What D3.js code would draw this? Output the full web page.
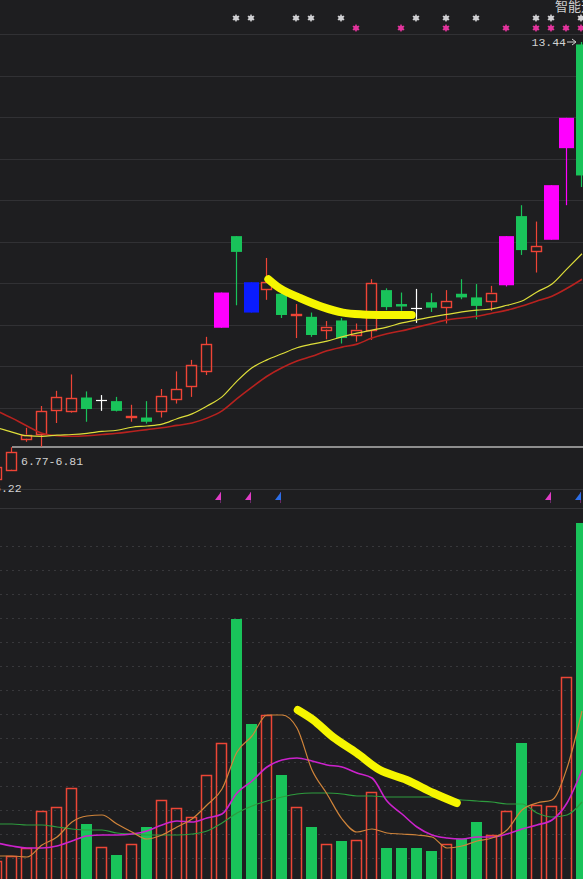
<!DOCTYPE html>
<html><head><meta charset="utf-8">
<script src="https://cdn.jsdelivr.net/npm/d3@7"></script>
<style>html,body{margin:0;padding:0;background:#1e1e20;overflow:hidden}svg{display:block}</style>
</head><body><svg id="c" width="583" height="879"></svg>
<script>
// ---- data (trading-day index, -1 is the partly hidden first candle) ----
const days   = [-1,0,1,2,3,4,5,6,7,8,9,10,11,12,13,14,15,16,17,18,19,20,21,22,23,24,25,26,27,28,29,30,31,32,33,34,35,36,37,38];
const open   = [6.24,6.39,6.90,6.97,7.36,7.36,7.58,7.54,7.52,7.25,7.25,7.36,7.55,7.77,8.02,8.73,10.24,9.48,9.36,9.29,8.93,8.91,8.70,8.85,8.61,8.69,9.35,9.12,9.05,9.15,9.07,9.29,9.23,9.17,9.43,10.57,9.98,10.18,11.69,13.40];
const close  = [6.43,6.68,6.97,7.35,7.58,7.57,7.39,7.54,7.36,7.27,7.18,7.61,7.72,8.12,8.46,9.31,9.98,8.98,9.48,8.94,8.95,8.61,8.75,8.56,8.70,9.46,9.07,9.08,9.05,9.06,9.17,9.23,9.09,9.31,10.24,10.01,10.07,11.08,12.19,11.24];
const high   = [6.46,6.76,7.08,7.44,7.69,7.96,7.68,7.62,7.59,7.46,7.52,7.72,8.01,8.20,8.58,9.31,10.24,9.48,9.88,9.35,9.12,8.98,8.84,8.89,8.80,9.53,9.38,9.31,9.37,9.30,9.35,9.53,9.45,9.42,10.24,10.75,10.48,11.08,12.19,13.44];
const low    = [6.22,6.37,6.85,6.77,7.16,7.33,7.18,7.36,7.35,7.18,7.15,7.25,7.48,7.59,7.95,8.73,9.10,8.98,9.19,8.89,8.56,8.58,8.54,8.47,8.50,8.53,9.02,9.01,8.81,8.99,8.80,9.20,8.87,9.01,9.41,9.93,9.64,10.18,10.75,11.05];
const priceMAyellow = [7.08,7.01,6.95,6.94,6.96,6.97,6.99,7.02,7.04,7.09,7.11,7.14,7.23,7.31,7.44,7.59,7.85,8.07,8.20,8.30,8.40,8.46,8.51,8.58,8.64,8.69,8.74,8.81,8.86,8.91,8.95,8.99,9.02,9.04,9.10,9.17,9.32,9.45,9.70,9.95];
const priceMAred    = [7.36,7.24,7.11,6.99,6.95,6.94,6.95,6.97,6.99,7.02,7.05,7.08,7.12,7.16,7.24,7.36,7.56,7.75,7.93,8.07,8.18,8.26,8.35,8.41,8.46,8.56,8.63,8.68,8.74,8.80,8.86,8.89,8.92,8.97,9.02,9.09,9.17,9.25,9.38,9.53];
const volume = [19,24,32,69,73,92,56,33,25,36,53,80,72,63,105,137,261,156,165,105,73,53,36,39,40,88,32,32,32,29,36,41,58,45,69,137,75,74,203,357];
const volMA5  = [24,24,23,35,43,58,64,65,56,48,41,45,53,61,75,91,128,144,165,165,152,110,86,61,48,51,47,46,45,43,32,34,39,42,50,70,77,80,112,169];
const volMA10 = [37,34,32,32,34,39,44,45,45,46,49,55,59,58,62,66,87,99,113,120,122,119,115,113,107,102,79,66,53,45,42,41,43,43,46,51,55,60,77,110];
const volMA20 = [56,56,55,55,53,51,50,50,47,46,45,45,45,46,49,57,67,74,79,83,86,87,87,86,84,84,83,83,83,83,82,80,79,78,76,76,67,63,65,78];
const grayStars = [15,16,19,20,22,27,29,31,35,36,38];
const pinkStars = [23,26,29,33,35,36,37,38];
const pinkFlags = [14,16,36];
const blueFlags = [18,38];
const highLabel = "13.44";
const lowLabel = "6.22";
const rangeLabel = "6.77-6.81";
const titleText = "智能选股";
// hand-drawn yellow marks, in (day, price) and (day, volume)
const priceStroke = [[17.09,9.53],[17.87,9.38],[19.2,9.22],[20.73,9.07],[22.07,8.98],[23.4,8.95],[25.2,8.94],[26.65,8.94]];
const volStroke = [[19.05,170],[20.09,160],[21.4,143],[22.98,127],[24.53,110],[26.31,100],[28.09,87],[29.65,77]];

// ---- scales ----
const W = 583, H = 879;
const svg = d3.select("#c");
const x = d3.scaleLinear().domain([-1, 38]).range([-3, 582]);
const yP = d3.scaleLinear().domain([6.22, 13.44]).range([480, 42]);
const yV = d3.scaleLinear().domain([0, 360]).range([880, 520]);

const RED = "#ee4436", VRED = "#ec4636", GREEN = "#19c35a", MAG = "#ff00ff", BLUE = "#0a1cff", WHITE = "#ffffff";

svg.append("rect").attr("width", W).attr("height", H).attr("fill", "#1e1e20");

// ---- grid ----
const g = svg.append("g");
d3.range(10).forEach(i => {
  const yy = Math.round(34 + 41.55 * i) + 0.5;
  g.append("line").attr("x1", 0).attr("x2", W).attr("y1", yy).attr("y2", yy)
    .attr("stroke", "#313134").attr("stroke-width", 1);
});
d3.range(14).forEach(i => {
  const yy = 546 + 24 * i + 0.5;
  g.append("line").attr("x1", 0).attr("x2", W).attr("y1", yy).attr("y2", yy)
    .attr("stroke", "#38383b").attr("stroke-width", 1).attr("stroke-dasharray", "2,4");
});
[489.5, 508.5].forEach(yy => g.append("line").attr("x1", 0).attr("x2", W).attr("y1", yy).attr("y2", yy)
  .attr("stroke", "#343437").attr("stroke-width", 1));
g.append("line").attr("x1", 12).attr("x2", W).attr("y1", 447).attr("y2", 447)
  .attr("stroke", "#8e8e8e").attr("stroke-width", 2);

// ---- candle typing ----
function kind(i) {
  const o = open[i], c = close[i];
  if (i > 0) {
    const pc = close[i - 1];
    if (c >= pc * 1.1 - 0.01) return "limUp";
    if (c <= pc * 0.9 + 0.01) return "limDn";
  }
  if (c > o) return "up";
  if (c < o) return "down";
  return "doji";
}
const colorOf = { up: RED, down: GREEN, limUp: MAG, limDn: BLUE, doji: WHITE };

// ---- volume bars ----
const gv = svg.append("g");
days.forEach((d, i) => {
  const cx = Math.round(x(d));
  let upVol;
  if (close[i] > open[i]) upVol = true;
  else if (close[i] < open[i]) upVol = false;
  else upVol = i > 0 ? close[i] >= close[i - 1] : true;
  const top = Math.round(yV(volume[i]));
  if (upVol) {
    gv.append("rect").attr("x", cx - 5.5).attr("y", top + 0.5)
      .attr("width", 10).attr("height", 880 - top)
      .attr("fill", "none").attr("stroke", VRED).attr("stroke-width", 1.5);
  } else {
    gv.append("rect").attr("x", cx - 6).attr("y", top)
      .attr("width", 11).attr("height", 880 - top).attr("fill", GREEN);
  }
});
const gl = svg.append("g");
const lineV = arr => d3.line().x((d, i) => x(days[i])).y(d => yV(d)).curve(d3.curveMonotoneX)(arr);
gl.append("path").attr("d", lineV(volMA20)).attr("fill", "none").attr("stroke", "#2e9c3e").attr("stroke-width", 1.2);
gl.append("path").attr("d", lineV(volMA10)).attr("fill", "none").attr("stroke", "#cc22cc").attr("stroke-width", 1.6);
gl.append("path").attr("d", lineV(volMA5)).attr("fill", "none").attr("stroke", "#d0843a").attr("stroke-width", 1.2);

// ---- candles ----
const gc = svg.append("g");
days.forEach((d, i) => {
  const cx = Math.round(x(d)), k = kind(i), col = colorOf[k];
  const yo = yP(open[i]), yc = yP(close[i]), yh = yP(high[i]), yl = yP(low[i]);
  const wx = cx - 0.5;
  const bt = Math.min(yo, yc), bb = Math.max(yo, yc);
  if (k === "up") {
    gc.append("line").attr("x1", wx).attr("x2", wx).attr("y1", yh).attr("y2", bt).attr("stroke", col).attr("stroke-width", 1.2);
    gc.append("line").attr("x1", wx).attr("x2", wx).attr("y1", bb).attr("y2", yl).attr("stroke", col).attr("stroke-width", 1.2);
    gc.append("rect").attr("x", cx - 5.5).attr("y", Math.round(bt) + 0.5).attr("width", 10)
      .attr("height", Math.max(1, Math.round(bb - bt))).attr("fill", "none").attr("stroke", col).attr("stroke-width", 1.4);
  } else if (k === "down") {
    gc.append("line").attr("x1", wx).attr("x2", wx).attr("y1", yh).attr("y2", yl).attr("stroke", col).attr("stroke-width", 1.2);
    gc.append("rect").attr("x", cx - 6).attr("y", bt).attr("width", 11)
      .attr("height", Math.max(1, bb - bt)).attr("fill", col);
  } else if (k === "doji") {
    gc.append("line").attr("x1", wx).attr("x2", wx).attr("y1", yh).attr("y2", yl).attr("stroke", col).attr("stroke-width", 1.2);
    gc.append("line").attr("x1", cx - 6).attr("x2", cx + 5).attr("y1", Math.round(yo) + 0.5).attr("y2", Math.round(yo) + 0.5).attr("stroke", col).attr("stroke-width", 1.2);
  } else {
    gc.append("line").attr("x1", wx).attr("x2", wx).attr("y1", yh).attr("y2", yl).attr("stroke", col).attr("stroke-width", 1.2);
    gc.append("rect").attr("x", cx - 8).attr("y", bt).attr("width", 15)
      .attr("height", Math.max(1, bb - bt)).attr("fill", col);
  }
});

// ---- price moving averages ----
const lineP = arr => d3.line().x((d, i) => x(days[i])).y(d => yP(d)).curve(d3.curveMonotoneX)(arr);
svg.append("path").attr("d", lineP(priceMAred)).attr("fill", "none").attr("stroke", "#b8221f").attr("stroke-width", 1.6);
svg.append("path").attr("d", lineP(priceMAyellow)).attr("fill", "none").attr("stroke", "#dede3a").attr("stroke-width", 1.2);

// ---- hand-drawn yellow strokes ----
const strokeLine = d3.line().curve(d3.curveCatmullRom);
svg.append("path").attr("d", strokeLine(priceStroke.map(p => [x(p[0]), yP(p[1])])))
  .attr("fill", "none").attr("stroke", "#f6f600").attr("stroke-width", 8).attr("stroke-linecap", "round");
svg.append("path").attr("d", strokeLine(volStroke.map(p => [x(p[0]), yV(p[1])])))
  .attr("fill", "none").attr("stroke", "#f6f600").attr("stroke-width", 8).attr("stroke-linecap", "round");

// ---- signal stars ----
function star(cx, cy, col) {
  const s = svg.append("g").attr("transform", `translate(${cx},${cy})`);
  s.append("path").attr("d", d3.symbol(d3.symbolAsterisk, 36)()).attr("stroke", col).attr("stroke-width", 1.4).attr("fill", "none");
  s.append("circle").attr("r", 2.6).attr("fill", col);
}
grayStars.forEach(d => star(x(d) - 1, 18, "#cfcfd2"));
pinkStars.forEach(d => star(x(d) - 1, 28, "#e2349c"));

// ---- flags ----
function flag(cx, cy, col) {
  const f = svg.append("g").attr("transform", `translate(${cx},${cy})`);
  f.append("line").attr("x1", -1.5).attr("x2", -1.5).attr("y1", -5).attr("y2", 6).attr("stroke", "#6a2a6a").attr("stroke-width", 1);
  f.append("path").attr("d", "M-1,-5 L-1,3 L-7,3 Z").attr("fill", col);
}
pinkFlags.forEach(d => flag(x(d), 497, "#e23cc6"));
blueFlags.forEach(d => flag(x(d), 497, "#2c6ee8"));

// ---- texts ----
const mono = "'Liberation Mono','DejaVu Sans Mono',monospace";
const lastI = days.length - 1;
svg.append("text").attr("x", x(days[lastI]) - 16).attr("y", yP(high[lastI]) + 4)
  .attr("text-anchor", "end").attr("font-family", mono).attr("font-size", 11.5).attr("fill", "#d2d2d2").text(highLabel);
svg.append("line").attr("x1", x(days[lastI]) - 15).attr("x2", x(days[lastI]) - 7)
  .attr("y1", yP(high[lastI])).attr("y2", yP(high[lastI])).attr("stroke", "#d2d2d2").attr("stroke-width", 1);
svg.append("path").attr("d", `M${x(days[lastI]) - 10},${yP(high[lastI]) - 3} L${x(days[lastI]) - 6},${yP(high[lastI])} L${x(days[lastI]) - 10},${yP(high[lastI]) + 3}`)
  .attr("fill", "none").attr("stroke", "#d2d2d2").attr("stroke-width", 1);
svg.append("text").attr("x", -6).attr("y", yP(low[0]) + 11.5)
  .attr("font-family", mono).attr("font-size", 11.5).attr("fill", "#d2d2d2").text(lowLabel);
svg.append("text").attr("x", 21).attr("y", 465)
  .attr("font-family", mono).attr("font-size", 11.5).attr("fill", "#d2d2d2").text(rangeLabel);
svg.append("text").attr("x", 555).attr("y", 11)
  .attr("font-family", "'Noto Sans CJK SC',sans-serif").attr("font-size", 13).attr("fill", "#cfcfcf").text(titleText);
</script>
</body></html>
